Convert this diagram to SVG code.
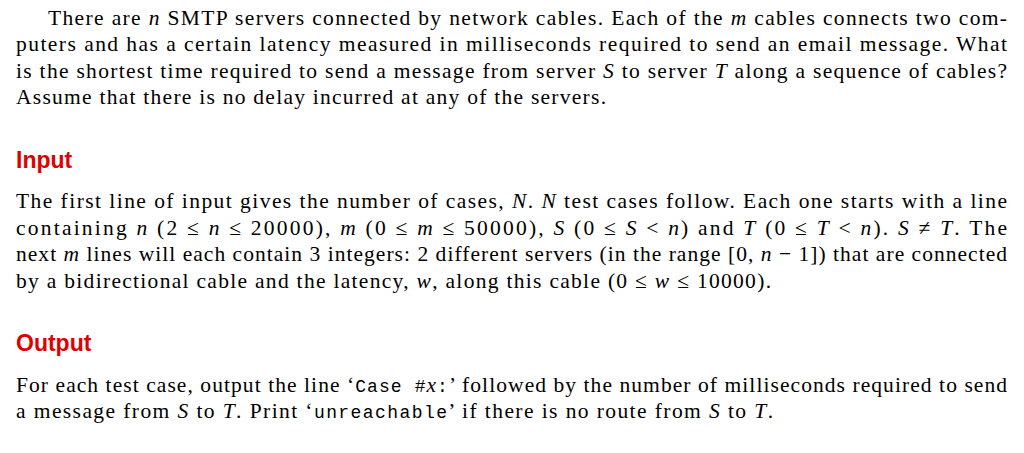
<svg xmlns="http://www.w3.org/2000/svg" width="1024" height="453" viewBox="0 0 1024 453">
<style>
text{font-family:"Liberation Serif","DejaVu Serif",serif;font-size:21.5px;fill:#000}
.i{font-style:italic}
.m{font-family:"Liberation Mono","DejaVu Sans Mono",monospace;font-size:18px}
.h{font-family:"Liberation Sans","DejaVu Sans",sans-serif;font-weight:bold;font-size:23px;fill:#e00000}
</style>
<rect width="1024" height="453" fill="#fff"/>
<text x="48" y="25" textLength="959" lengthAdjust="spacing">There are <tspan class="i">n</tspan> SMTP servers connected by network cables. Each of the <tspan class="i">m</tspan> cables connects two com-</text>
<text x="16" y="51" textLength="991" lengthAdjust="spacing">puters and has a certain latency measured in milliseconds required to send an email message. What</text>
<text x="16" y="78" textLength="991" lengthAdjust="spacing">is the shortest time required to send a message from server <tspan class="i">S</tspan> to server <tspan class="i">T</tspan> along a sequence of cables?</text>
<text x="16" y="104" textLength="590" lengthAdjust="spacing">Assume that there is no delay incurred at any of the servers.</text>
<text class="h" x="16" y="168">Input</text>
<text x="16" y="208" textLength="991" lengthAdjust="spacing">The first line of input gives the number of cases, <tspan class="i">N</tspan>. <tspan class="i">N</tspan> test cases follow. Each one starts with a line</text>
<text x="16" y="235" textLength="991" lengthAdjust="spacing">containing <tspan class="i">n</tspan> (2 ≤ <tspan class="i">n</tspan> ≤ 20000), <tspan class="i">m</tspan> (0 ≤ <tspan class="i">m</tspan> ≤ 50000), <tspan class="i">S</tspan> (0 ≤ <tspan class="i">S</tspan> &lt; <tspan class="i">n</tspan>) and <tspan class="i">T</tspan> (0 ≤ <tspan class="i">T</tspan> &lt; <tspan class="i">n</tspan>). <tspan class="i">S</tspan> ≠ <tspan class="i">T</tspan>. The</text>
<text x="16" y="261" textLength="991" lengthAdjust="spacing">next <tspan class="i">m</tspan> lines will each contain 3 integers: 2 different servers (in the range [0, <tspan class="i">n</tspan> − 1]) that are connected</text>
<text x="16" y="288" textLength="755" lengthAdjust="spacing">by a bidirectional cable and the latency, <tspan class="i">w</tspan>, along this cable (0 ≤ <tspan class="i">w</tspan> ≤ 10000).</text>
<text class="h" x="16" y="351">Output</text>
<text x="16" y="392" textLength="991" lengthAdjust="spacing">For each test case, output the line ‘<tspan class="m">Case #</tspan><tspan class="i">x</tspan><tspan class="m">:</tspan>’ followed by the number of milliseconds required to send</text>
<text x="16" y="418" textLength="757" lengthAdjust="spacing">a message from <tspan class="i">S</tspan> to <tspan class="i">T</tspan>. Print ‘<tspan class="m">unreachable</tspan>’ if there is no route from <tspan class="i">S</tspan> to <tspan class="i">T</tspan>.</text>
</svg>
